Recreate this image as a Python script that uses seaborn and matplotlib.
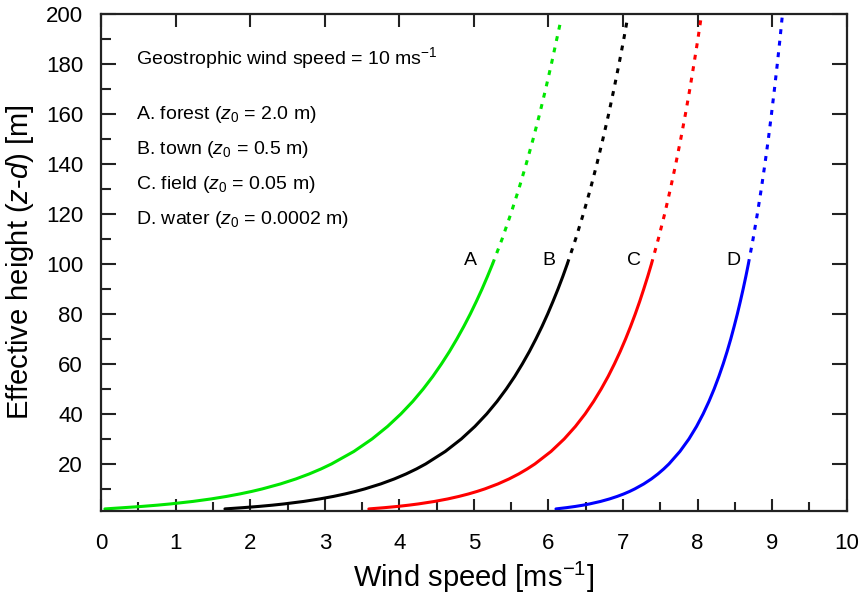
import numpy as np
import pandas as pd
import matplotlib
matplotlib.use("Agg")
import matplotlib.pyplot as plt
import seaborn as sns
from matplotlib.ticker import MultipleLocator

# ---- data ----
sites = ["A", "B", "C", "D"]
site_colors = ["#00e600", "#000000", "#ff0000", "#0000ff"]

heights_solid = [2, 2.5, 3, 3.5, 4, 5, 6, 7, 8, 9, 10, 12, 14, 16, 18, 20, 25, 30,
                 35, 40, 45, 50, 55, 60, 65, 70, 75, 80, 85, 90, 95, 100]
speed_A_solid = [0.050, 0.300, 0.544, 0.751, 0.930, 1.230, 1.475, 1.681, 1.860,
                 2.019, 2.160, 2.405, 2.612, 2.791, 2.949, 3.090, 3.390, 3.634,
                 3.841, 4.020, 4.179, 4.320, 4.448, 4.564, 4.672, 4.771, 4.864,
                 4.951, 5.032, 5.109, 5.181, 5.250]
speed_B_solid = [1.660, 1.899, 2.114, 2.296, 2.454, 2.717, 2.932, 3.114, 3.272,
                 3.411, 3.535, 3.750, 3.932, 4.090, 4.229, 4.353, 4.616, 4.831,
                 5.013, 5.171, 5.310, 5.434, 5.547, 5.649, 5.744, 5.831, 5.913,
                 5.989, 6.060, 6.128, 6.192, 6.252]
speed_C_solid = [3.590, 3.799, 3.976, 4.125, 4.255, 4.472, 4.649, 4.798, 4.928,
                 5.042, 5.145, 5.322, 5.471, 5.601, 5.715, 5.818, 6.034, 6.211,
                 6.361, 6.491, 6.605, 6.707, 6.800, 6.884, 6.962, 7.034, 7.101,
                 7.164, 7.223, 7.278, 7.331, 7.381]
speed_D_solid = [6.100, 6.240, 6.361, 6.463, 6.551, 6.699, 6.819, 6.921, 7.010,
                 7.088, 7.157, 7.278, 7.380, 7.468, 7.546, 7.616, 7.763, 7.884,
                 7.986, 8.074, 8.152, 8.222, 8.285, 8.343, 8.396, 8.445, 8.490,
                 8.533, 8.573, 8.611, 8.647, 8.681]

heights_A_dashed = [100, 110, 120, 130, 140, 150, 160, 170, 180, 190, 196]
heights_B_dashed = [100, 110, 120, 130, 140, 150, 160, 170, 180, 190, 197]
heights_C_dashed = [100, 110, 120, 130, 140, 150, 160, 170, 180, 190, 198]
heights_D_dashed = [100, 110, 120, 130, 140, 150, 160, 170, 180, 190, 199]
speed_A_dashed = [5.250, 5.378, 5.494, 5.602, 5.701, 5.794, 5.881, 5.962, 6.039, 6.111, 6.155]
speed_B_dashed = [6.252, 6.364, 6.467, 6.562, 6.649, 6.730, 6.807, 6.878, 6.946, 7.010, 7.052]
speed_C_dashed = [7.381, 7.473, 7.558, 7.635, 7.707, 7.774, 7.837, 7.896, 7.951, 8.004, 8.044]
speed_D_dashed = [8.681, 8.744, 8.801, 8.854, 8.903, 8.949, 8.991, 9.031, 9.069, 9.105, 9.135]

label_x = [4.95, 6.00, 7.15, 8.48]
label_y = [101.5, 101.5, 101.5, 101.5]

legend_lines = [
    "Geostrophic wind speed = 10 ms$^{-1}$",
    "A. forest ($z_0$ = 2.0 m)",
    "B. town ($z_0$ = 0.5 m)",
    "C. field ($z_0$ = 0.05 m)",
    "D. water ($z_0$ = 0.0002 m)",
]
legend_y = [180, 158, 144, 130, 116]

# ---- build long table ----
solid = [speed_A_solid, speed_B_solid, speed_C_solid, speed_D_solid]
dashed = [speed_A_dashed, speed_B_dashed, speed_C_dashed, speed_D_dashed]
dashed_h = [heights_A_dashed, heights_B_dashed, heights_C_dashed, heights_D_dashed]
rows = []
for s, sp, spd, hd in zip(sites, solid, dashed, dashed_h):
    for u, z in zip(sp, heights_solid):
        rows.append(dict(site=s, seg="solid", speed=u, height=z))
    for u, z in zip(spd, hd):
        rows.append(dict(site=s, seg="dashed", speed=u, height=z))
df = pd.DataFrame(rows)

# ---- style ----
sns.set_theme(style="ticks")
plt.rcParams["font.family"] = ["Liberation Sans", "DejaVu Sans"]
plt.rcParams["mathtext.fontset"] = "custom"
plt.rcParams["mathtext.rm"] = "Liberation Sans"
plt.rcParams["mathtext.it"] = "Liberation Sans:italic"
plt.rcParams["mathtext.bf"] = "Liberation Sans:bold"
for k in ["text.color", "axes.labelcolor", "xtick.color", "ytick.color", "axes.edgecolor"]:
    plt.rcParams[k] = "black"

fig = plt.figure(figsize=(8.61, 5.97), dpi=100)
ax = fig.add_axes([0.1175, 0.1446, 0.9834 - 0.1175, 0.9765 - 0.1446])

sns.lineplot(data=df, x="speed", y="height", hue="site", style="seg",
             palette=dict(zip(sites, site_colors)),
             dashes={"solid": "", "dashed": (1.6, 2.2)},
             sort=False, estimator=None, linewidth=2.2, legend=False, ax=ax)

ax.set_xlim(0, 10)
ax.set_ylim(1.3, 200)
ax.xaxis.set_major_locator(MultipleLocator(1))
ax.xaxis.set_minor_locator(MultipleLocator(0.5))
ax.yaxis.set_minor_locator(MultipleLocator(10))
ax.set_yticks([20, 40, 60, 80, 100, 120, 140, 160, 180, 200])

ax.tick_params(axis="x", which="major", direction="in", length=9, width=1.5,
               labelsize=16, pad=16, top=True, bottom=True, color="#222222")
ax.tick_params(axis="x", which="minor", direction="in", length=6.5, width=1.5,
               top=False, bottom=True, color="#222222")
ax.tick_params(axis="y", which="major", direction="in", length=10.5, width=1.5,
               labelsize=16, pad=13, right=True, left=True, color="#222222")
ax.tick_params(axis="y", which="minor", direction="in", length=7.5, width=1.5,
               right=False, left=True, color="#222222")
for sp in ax.spines.values():
    sp.set_linewidth(1.6)
    sp.set_color("#222222")
    sp.set_visible(True)

ax.set_xlabel("Wind speed [ms$^{-1}$]", fontsize=21, labelpad=4)
ax.set_ylabel("Effective height ($z$-$d$) [m]", fontsize=21, labelpad=7)

for s, x, y in zip(sites, label_x, label_y):
    ax.text(x, y, s, fontsize=14, ha="center", va="center")

for t, y in zip(legend_lines, legend_y):
    ax.text(0.47, y, t, fontsize=14, ha="left", va="baseline")

fig.savefig("out.png", dpi=100)
